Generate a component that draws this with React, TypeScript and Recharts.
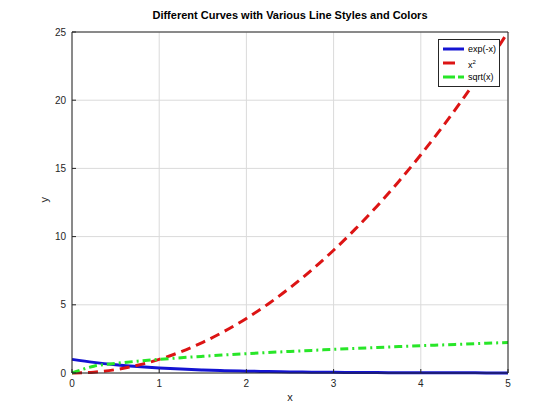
import React from "react";
import { LineChart, Line, XAxis, YAxis, CartesianGrid } from "recharts";

const xValues = [0, 0.25, 0.5, 0.75, 1, 1.25, 1.5, 1.75, 2, 2.25, 2.5, 2.75, 3, 3.25, 3.5, 3.75, 4, 4.25, 4.5, 4.75, 5];
const expValues = [1, 0.7788, 0.6065, 0.4724, 0.3679, 0.2865, 0.2231, 0.1738, 0.1353, 0.1054, 0.0821, 0.0639, 0.0498, 0.0388, 0.0302, 0.0235, 0.0183, 0.0143, 0.0111, 0.0087, 0.0067];
const sqValues = [0, 0.0625, 0.25, 0.5625, 1, 1.5625, 2.25, 3.0625, 4, 5.0625, 6.25, 7.5625, 9, 10.5625, 12.25, 14.0625, 16, 18.0625, 20.25, 22.5625, 25];
const sqrtValues = [0, 0.5, 0.7071, 0.866, 1, 1.118, 1.2247, 1.3229, 1.4142, 1.5, 1.5811, 1.6583, 1.7321, 1.8028, 1.8708, 1.9365, 2, 2.0616, 2.1213, 2.1794, 2.2361];
const xTicks = [0, 1, 2, 3, 4, 5];
const yTicks = [0, 5, 10, 15, 20, 25];

const data = xValues.map((x, i) => ({ x, e: expValues[i], s: sqValues[i], r: sqrtValues[i] }));

const FONT = "'Liberation Sans', Arial, Helvetica, sans-serif";
const BLUE = "#1414d2";
const RED = "#dc1414";
const GREEN = "#28e628";
const AXIS = "#262626";

export default function App() {
  return (
    <div style={{ position: "absolute", left: 0, top: 0, width: 533, height: 420, background: "#fff", fontFamily: FONT }}>
      <LineChart width={533} height={420} data={data} margin={{ top: 31, right: 24, bottom: 17, left: 32 }}>
        <CartesianGrid xAxisId="b" yAxisId="l" stroke="#dadada" strokeWidth={1} />
        <XAxis
          xAxisId="b"
          dataKey="x"
          type="number"
          domain={[0, 5]}
          ticks={xTicks}
          height={30}
          stroke={AXIS}
          tickSize={-4}
          tickMargin={11}
          tick={{ fill: AXIS, fontSize: 10, fontFamily: FONT }}
          label={{ value: "x", position: "insideBottom", offset: 2, fill: AXIS, fontSize: 11, fontFamily: FONT }}
        />
        <XAxis xAxisId="t" orientation="top" dataKey="x" type="number" domain={[0, 5]} ticks={xTicks} height={1} stroke={AXIS} tickSize={-4} tick={false} />
        <YAxis
          yAxisId="l"
          type="number"
          domain={[0, 25]}
          ticks={yTicks}
          width={40}
          stroke={AXIS}
          tickSize={-4}
          tickMargin={10}
          tick={{ fill: AXIS, fontSize: 10, fontFamily: FONT }}
          label={{ value: "y", angle: -90, position: "insideLeft", offset: 12, fill: AXIS, fontSize: 11, fontFamily: FONT }}
        />
        <YAxis yAxisId="r" orientation="right" type="number" domain={[0, 25]} ticks={yTicks} width={1} stroke={AXIS} tickSize={-4} tick={false} />
        <Line xAxisId="b" yAxisId="l" dataKey="e" type="monotone" stroke={BLUE} strokeWidth={3} dot={false} isAnimationActive={false} />
        <Line xAxisId="b" yAxisId="l" dataKey="s" type="monotone" stroke={RED} strokeWidth={3} strokeDasharray="10 6" dot={false} isAnimationActive={false} />
        <Line xAxisId="b" yAxisId="l" dataKey="r" type="monotone" stroke={GREEN} strokeWidth={3} strokeDasharray="8 4 2 4" dot={false} isAnimationActive={false} />
      </LineChart>
      <div style={{ position: "absolute", left: 0, top: 9, width: 580, textAlign: "center", fontSize: 11, fontWeight: "bold", color: "#000" }}>
        Different Curves with Various Line Styles and Colors
      </div>
      <div style={{ position: "absolute", left: 438, top: 39, width: 60, height: 46, border: "1px solid #262626", background: "#fff", fontSize: 9, color: "#000" }}>
        <svg width={60} height={46} style={{ position: "absolute", left: 0, top: 0 }}>
          <line x1={4} x2={25} y1={9} y2={9} stroke={BLUE} strokeWidth={3} />
          <line x1={4} x2={25} y1={23} y2={23} stroke={RED} strokeWidth={3} strokeDasharray="12 12" />
          <line x1={4} x2={25} y1={37} y2={37} stroke={GREEN} strokeWidth={3} strokeDasharray="12 3 7 3" />
          <text x={29} y={12} fontSize={9} fontFamily={FONT} fill="#000">exp(-x)</text>
          <text x={29} y={28} fontSize={9} fontFamily={FONT} fill="#000">x<tspan dy={-4} fontSize={6}>2</tspan></text>
          <text x={29} y={40} fontSize={9} fontFamily={FONT} fill="#000">sqrt(x)</text>
        </svg>
      </div>
    </div>
  );
}
